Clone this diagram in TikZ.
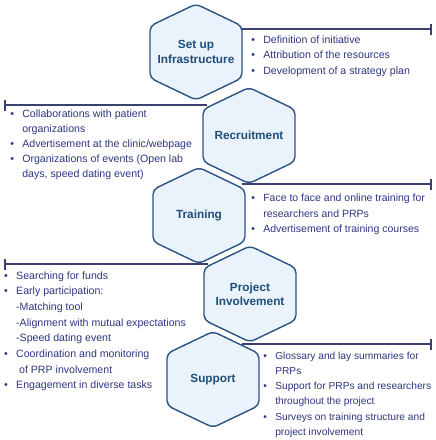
\documentclass[tikz,border=0pt]{standalone}
\usepackage{fontspec}
\setmainfont{Liberation Sans}
\definecolor{hexline}{HTML}{2B5283}
\definecolor{hexfill}{HTML}{EAF2FB}
\definecolor{headc}{HTML}{1F4E79}
\definecolor{txtc}{HTML}{2E3580}
\definecolor{rulec}{HTML}{3A4170}
\newcommand\bu{\makebox[12pt][l]{\textbullet}}
\newcommand\nb{\hspace*{12pt}}
\newcommand\hexat[4]{%
  \draw[hexbox] (#2,#3-48) -- (#2+46,#3-26) -- (#2+46,#3+26) -- (#2,#3+48)
     -- (#2-46,#3+26) -- (#2-46,#3-26) -- cycle;
  \node[hextext] (#1) at (#2,#3) {#4};}
\newcommand\ruleto[2]{%
  \draw[rulel] (#1) -- (#2);
  \draw[rulel] ([yshift=-5.5pt]#2) -- ([yshift=5.5pt]#2);}
\tikzset{
  hexbox/.style={draw=hexline, fill=hexfill, line width=1.4pt, rounded corners=5pt, line join=round},
  hextext/.style={text=headc, font=\fontsize{11.8}{14.3}\selectfont\bfseries, align=center, inner sep=0pt},
  rulel/.style={draw=rulec, line width=1.5pt},
  blk/.style={text=txtc, inner sep=0pt, anchor=base west},
}
\begin{document}
\begin{tikzpicture}[x=1pt,y=-1pt]
\useasboundingbox (0,0) rectangle (436,440);
% connector end points
\coordinate (l1s) at (242,29);  \coordinate (l1e) at (431,29);
\coordinate (l2s) at (207,105); \coordinate (l2e) at (5,105);
\coordinate (l3s) at (242,184); \coordinate (l3e) at (431,184);
\coordinate (l4s) at (208,264); \coordinate (l4e) at (5,264);
\coordinate (l5s) at (242,344); \coordinate (l5e) at (431,344);
\ruleto{l1s}{l1e}
\ruleto{l2s}{l2e}
\ruleto{l3s}{l3e}
\ruleto{l4s}{l4e}
\ruleto{l5s}{l5e}
% hexagons
\hexat{h1}{196}{52}{Set up\\Infrastructure}
\hexat{h2}{249}{135.5}{Recruitment}
\hexat{h3}{199}{215.5}{Training}
\hexat{h4}{250}{294}{Project\\Involvement}
\hexat{h5}{213}{379.5}{Support}
% text blocks
\node[blk, font=\fontsize{10.6}{15.5}\selectfont] (b1) at (251.1,43) {\begin{tabular}[t]{@{}l@{}}
\bu Definition of initiative\\
\bu Attribution of the resources\\
\bu Development of a strategy plan
\end{tabular}};
\node[blk, font=\fontsize{10.6}{15.1}\selectfont] (b2) at (10.1,117) {\begin{tabular}[t]{@{}l@{}}
\bu Collaborations with patient\\
\nb organizations\\
\bu Advertisement at the clinic/webpage\\
\bu Organizations of events (Open lab\\
\nb days, speed dating event)
\end{tabular}};
\node[blk, font=\fontsize{10.5}{15.3}\selectfont] (b3) at (251.1,201.7) {\begin{tabular}[t]{@{}l@{}}
\bu Face to face and online training for\\
\nb researchers and PRPs\\
\bu Advertisement of training courses
\end{tabular}};
\node[blk, font=\fontsize{10.6}{15.7}\selectfont] (b4) at (4,279) {\begin{tabular}[t]{@{}l@{}}
\bu Searching for funds\\
\bu Early participation:\\
\nb -Matching tool\\
\nb -Alignment with mutual expectations\\
\nb -Speed dating event\\
\bu Coordination and monitoring\\
\nb\ of PRP involvement\\
\bu Engagement in diverse tasks
\end{tabular}};
\node[blk, font=\fontsize{10.2}{15.2}\selectfont] (b5) at (263.1,359.3) {\begin{tabular}[t]{@{}l@{}}
\bu Glossary and lay summaries for\\
\nb PRPs\\
\bu Support for PRPs and researchers\\
\nb throughout the project\\
\bu Surveys on training structure and\\
\nb project involvement
\end{tabular}};
\end{tikzpicture}
\end{document}
